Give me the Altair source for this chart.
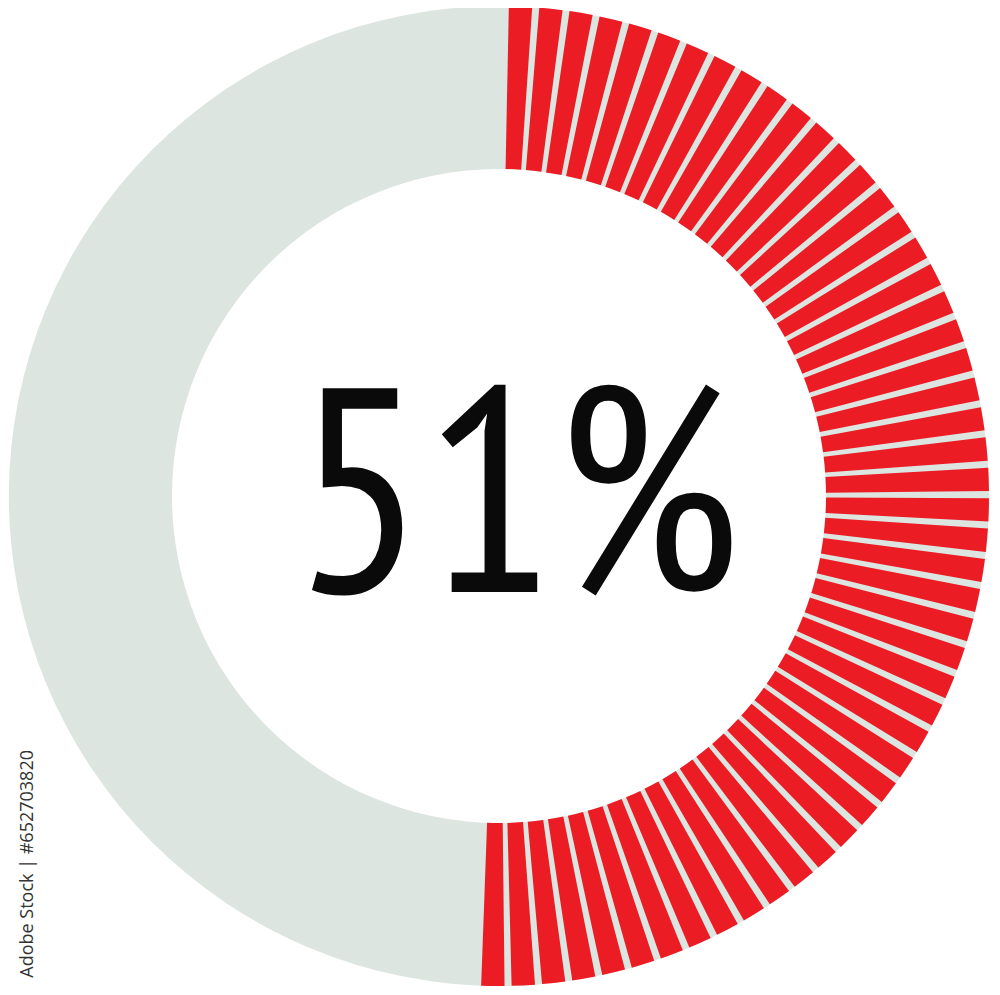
import altair as alt
import pandas as pd

# data
percent = 51
label_text = "51%"
credit_text = "Adobe Stock | #652703820"

# segments of the filled part (one per percent), start/width in percent units
seg_offset = 0.32
seg_period = 0.99
seg_width = 0.76

segments = pd.DataFrame({
    "seg": list(range(percent)),
    "start": [seg_offset + i * seg_period for i in range(percent)],
    "end": [seg_offset + i * seg_period + seg_width for i in range(percent)],
})
background = pd.DataFrame({"start": [0], "end": [100]})

CX, CY = 491, 488
R_OUT, R_IN = 490, 327
RED = "#ec1c24"
GREY = "#dde5e1"

theta_scale = alt.Scale(domain=[0, 100], range=[0, 6.283185307179586])

ring = alt.Chart(background).mark_arc(
    radius=R_OUT, radius2=R_IN, color=GREY
).encode(
    theta=alt.Theta("start:Q", scale=theta_scale),
    theta2="end:Q",
    x=alt.value(CX),
    y=alt.value(CY),
)

reds = alt.Chart(segments).mark_arc(
    radius=R_OUT, radius2=R_IN, color=RED
).encode(
    theta=alt.Theta("start:Q", scale=theta_scale),
    theta2="end:Q",
    x=alt.value(CX),
    y=alt.value(CY),
)

label = alt.Chart(pd.DataFrame({"t": [label_text]})).mark_text(
    font="PT Sans Narrow, Roboto Condensed, Sofia Sans Condensed, sans-serif",
    fontSize=291,
    color="#0a0a0a",
    align="center",
    baseline="alphabetic",
).encode(
    text="t:N",
    x=alt.value(509),
    y=alt.value(584),
)

credit = alt.Chart(pd.DataFrame({"t": [credit_text]})).mark_text(
    font="Open Sans",
    fontSize=18,
    color="#333333",
    align="right",
    baseline="alphabetic",
    angle=270,
).encode(
    text="t:N",
    x=alt.value(25),
    y=alt.value(742),
)

chart = alt.layer(ring, reds, label, credit).properties(
    width=984,
    height=978,
    padding=0,
    autosize="none",
).configure_view(stroke=None)

chart.save("out.html", embed_options={"renderer": "svg", "actions": False})
